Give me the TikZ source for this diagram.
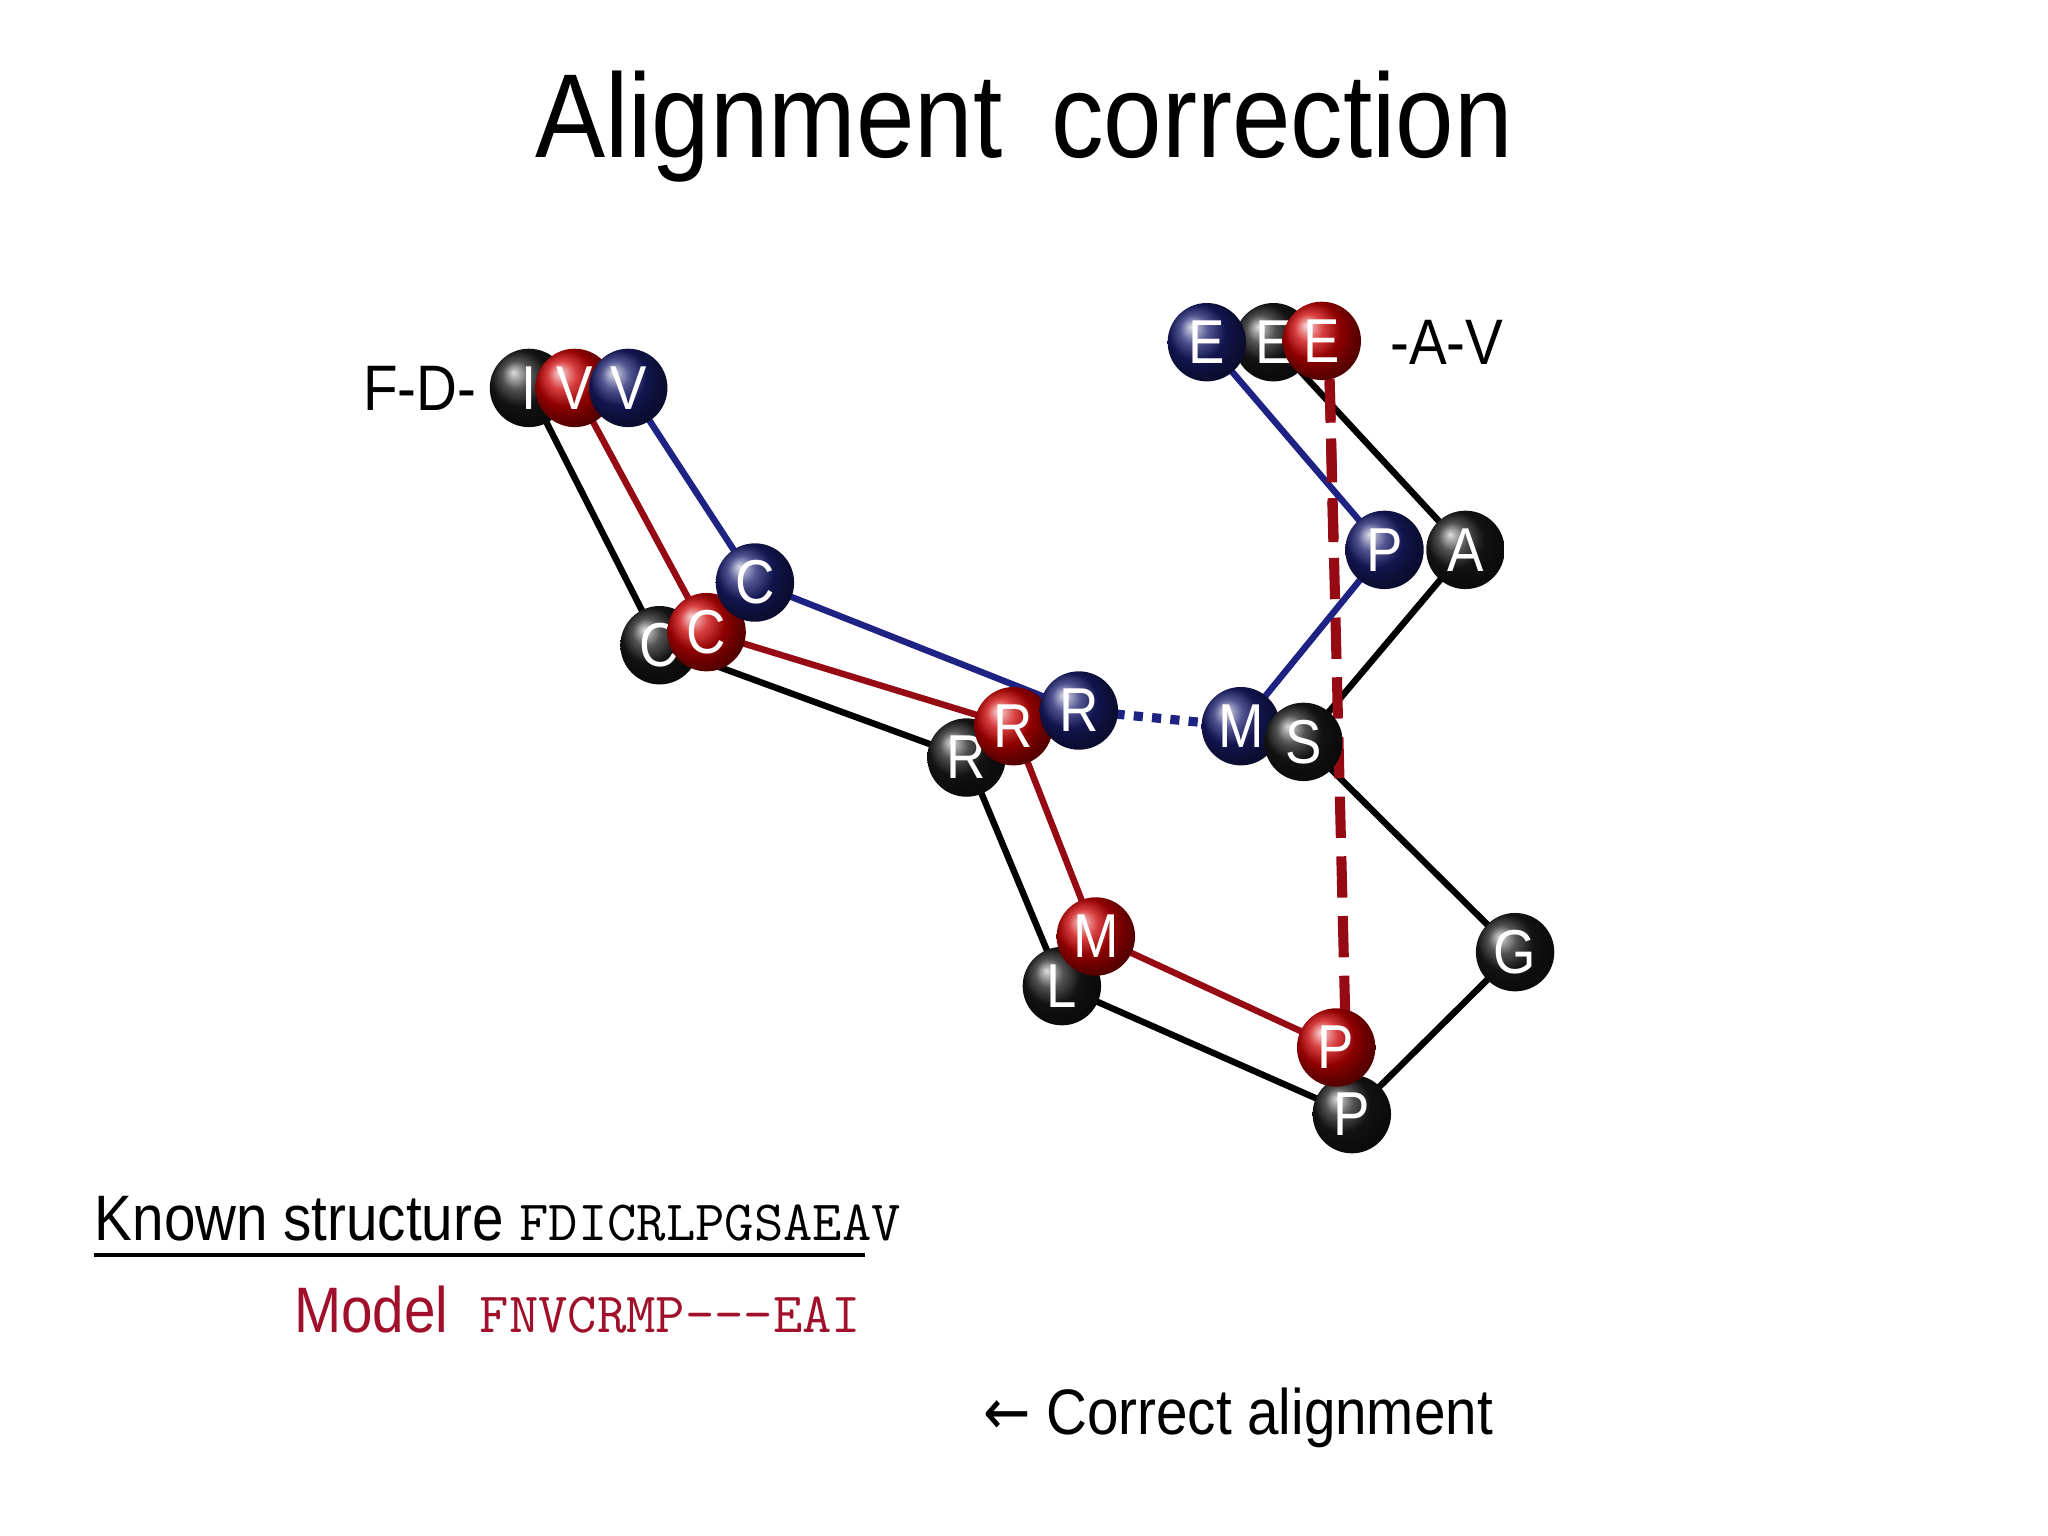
\documentclass[tikz,border=0pt]{standalone}
\usepackage{fontspec}
\setmainfont{Liberation Sans}[FakeStretch=0.88]
\newfontfamily\arrowfont{DejaVu Sans}[FakeStretch=0.88]
\setmonofont{Latin Modern Mono}
\usetikzlibrary{shadings}
\definecolor{dred}{RGB}{150,10,20}
\definecolor{dblue}{RGB}{30,34,130}
\definecolor{mred}{RGB}{160,16,42}
\tikzset{
  atom/.style={circle,minimum size=0.6cm,inner sep=0pt,shading=ball,text=white,font=\fontsize{13.5}{16}\selectfont},
  blk/.style={atom,ball color=black!90},
  rd/.style={atom,ball color=red!80!black},
  bl/.style={atom,ball color=dblue!85!black},
  bond/.style={line width=1.4pt}
}
\begin{document}
\begin{tikzpicture}[x=0.01cm,y=-0.01cm]
\useasboundingbox (0,0) rectangle (1568,1176);
\node (title) at (784,97) {\fontsize{26}{30}\selectfont Alignment\, correction};
% black
\coordinate (bI) at (405,297); \coordinate (bC) at (505,494); \coordinate (bR) at (740,580);
\coordinate (bL) at (813,755); \coordinate (bP) at (1035,853); \coordinate (bG) at (1160,729);
\coordinate (bS) at (998,568); \coordinate (bA) at (1122,421); \coordinate (bE) at (975,262);
% red
\coordinate (rV) at (440,297); \coordinate (rC) at (541,484); \coordinate (rR) at (776,556);
\coordinate (rM) at (839,717); \coordinate (rP) at (1030,780); \coordinate (rE) at (1018,290);
\coordinate (rPc) at (1023,802);
% blue
\coordinate (uV) at (481,297); \coordinate (uC) at (578,446); \coordinate (uR) at (826,544);
\coordinate (uM) at (950,556); \coordinate (uP) at (1060,421); \coordinate (uE) at (924,262);
\draw[bond,black] (bI)--(bC)--(bR)--(bL)--(bP)--(bG)--(bS)--(bA)--(bE);
\draw[bond,dred] (rV)--(rC)--(rR)--(rM)--(rPc);
\draw[dred,line width=2.2pt,dash pattern=on 9pt off 4pt] (rE)--(rP);
\draw[bond,dblue] (uV)--(uC)--(uR);
\draw[bond,dblue] (uM)--(uP)--(uE);
\draw[dblue,line width=2pt,dotted] (uR)--(uM);
% atoms
\node[blk] (nbI) at (bI) {I};
\node[blk] (nbC) at (bC) {C};
\node[blk] (nbR) at (bR) {R};
\node[blk] (nbL) at (bL) {L};
\node[blk] (nbP) at (bP) {P};
\node[blk] (nbG) at (bG) {G};
\node[blk] (nbA) at (bA) {A};
\node[blk] (nbE) at (bE) {E};
\node[rd] (nrV) at (rV) {V};
\node[bl] (nuV) at (uV) {V};
\node[rd] (nrC) at (rC) {C};
\node[bl] (nuC) at (uC) {C};
\node[rd] (nrR) at (rR) {R};
\node[bl] (nuR) at (uR) {R};
\node[rd] (nrM) at (rM) {M};
\node[rd] (nrP) at (rPc) {P};
\node[bl] (nuP) at (uP) {P};
\node[bl] (nuM) at (uM) {M};
\node[blk] (nbS) at (bS) {S};
\node[bl] (nuE) at (uE) {E};
\node[rd] (nrE) at (1012,261) {E};
\draw[dred,line width=2.2pt,dash pattern=on 9pt off 4pt] (1018,292)--(1021,420);
\node[anchor=east,font=\fontsize{14}{16}\selectfont] (fd) at (377,297) {F-D-};
\node[anchor=west,font=\fontsize{14}{16}\selectfont] (av) at (1052,262) {-A-V};
% legend
\node[anchor=base west,inner sep=0pt,font=\fontsize{14}{16}\selectfont] (ks) at (72,950) {Known structure \fontsize{12.4}{14}\ttfamily FDICRLPGSAEAV};
\draw[line width=0.9pt] (72,961)--(662,961);
\node[anchor=base east,inner sep=0pt,text=mred,font=\fontsize{14}{16}\selectfont] (md) at (660,1020) {Model\ \ {\fontsize{12.4}{14}\ttfamily FNVCRMP---EAI}};
\node[anchor=base west,inner sep=0pt,font=\fontsize{14}{16}\selectfont] (ca) at (752,1098) {{\arrowfont ←} Correct alignment};
\end{tikzpicture}
\end{document}
